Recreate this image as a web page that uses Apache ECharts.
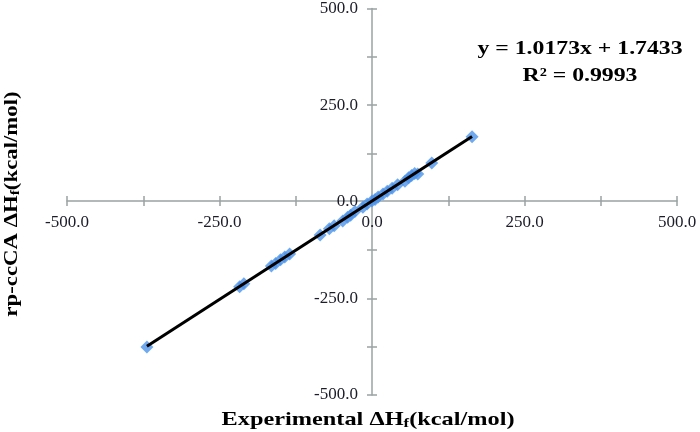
<!DOCTYPE html>
<html>
<head>
<meta charset="utf-8">
<script src="https://cdn.jsdelivr.net/npm/echarts@6/dist/echarts.min.js"></script>
<style>html,body{margin:0;padding:0;background:#fff;}#c{width:700px;height:432px;}</style>
</head>
<body>
<div id="c"></div>
<script>
const expX = [-369, -217, -210, -165, -158, -150, -143, -135, -85, -70, -62, -48, -40, -35, -28, -15, -8, 0, 5, 10, 18, 25, 33, 42, 54, 60, 65, 70, 75, 98, 164];
const calcY = [-376, -220, -212, -166, -160, -150, -143, -135, -86, -70, -62, -50, -40, -35, -25, -14, -6, 2, 6, 12, 20, 27, 35, 44, 53, 62, 68, 73, 72, 100, 168];
const slope = 1.0173;
const intercept = 1.7433;
const rSquared = 0.9993;
const axisMin = -500, axisMax = 500, tickStep = 125, labelStep = 250;

const points = expX.map((x, i) => [x, calcY[i]]);
const xs = expX.slice().sort((a, b) => a - b);
const trend = [[xs[0], slope * xs[0] + intercept], [xs[xs.length - 1], slope * xs[xs.length - 1] + intercept]];

const serif = '"Liberation Serif", "Times New Roman", serif';
const fmt = v => (Math.round(v) % labelStep === 0) ? v.toFixed(1) : '';
const axisColor = '#9aa3a3';
const W = 700, H = 432;
const G = { left: 67, right: 23, top: 7, bottom: 37 };
const halfW = (W - G.left - G.right) / 2;
const halfH = (H - G.top - G.bottom) / 2;

const labelStyle = { fontFamily: serif, fontSize: 17, color: '#1c1c2a' };

function xAx(inside, labels) {
  return {
    type: 'value', min: axisMin, max: axisMax, interval: tickStep, position: 'bottom', offset: -halfH,
    axisLine: { show: labels, onZero: false, lineStyle: { color: axisColor, width: 1.5 } },
    axisTick: { show: true, inside: inside, length: 5, lineStyle: { color: axisColor, width: 1.5 } },
    axisLabel: Object.assign({ show: labels, formatter: fmt, margin: 13, showMinLabel: true, showMaxLabel: true }, labelStyle),
    splitLine: { show: false }
  };
}
function yAx(inside, labels) {
  return {
    type: 'value', min: axisMin, max: axisMax, interval: tickStep, position: 'left', offset: -halfW,
    axisLine: { show: labels, onZero: false, lineStyle: { color: axisColor, width: 1.5 } },
    axisTick: { show: true, inside: inside, length: 5, lineStyle: { color: axisColor, width: 1.5 } },
    axisLabel: Object.assign({ show: labels, formatter: fmt, margin: 14, showMinLabel: true, showMaxLabel: true }, labelStyle),
    splitLine: { show: false }
  };
}

const chart = echarts.init(document.getElementById('c'));
chart.setOption({
  animation: false,
  grid: G,
  xAxis: [xAx(false, true), xAx(true, false)],
  yAxis: [yAx(false, true), yAx(true, false)],
  series: [
    {
      type: 'scatter', data: points, symbol: 'diamond', symbolSize: [13, 13],
      itemStyle: { color: '#4d94ea' }, z: 2
    },
    {
      type: 'line', data: trend, symbol: 'none',
      lineStyle: { color: '#000', width: 3 }, z: 3
    }
  ],
  graphic: [
    {
      type: 'text', x: 580, y: 63, scaleX: 1.25,
      style: {
        text: 'y = ' + slope.toFixed(4) + 'x + ' + intercept.toFixed(4) + '\nR² = ' + rSquared.toFixed(4),
        fill: '#000', font: 'bold 19px ' + serif, align: 'center', verticalAlign: 'middle', lineHeight: 27
      }
    },
    {
      type: 'text', x: 368, y: 420, scaleX: 1.28,
      style: {
        rich: {
          b: { font: 'bold 19px ' + serif, fill: '#000' },
          s: { font: 'bold 13px ' + serif, fill: '#000', padding: [8, 0, 0, 0] }
        },
        text: '{b|Experimental ΔH}{s|f}{b|(kcal/mol)}',
        align: 'center', verticalAlign: 'middle'
      }
    },
    {
      type: 'text', x: 12, y: 204, rotation: Math.PI / 2, scaleX: 1.2,
      style: {
        rich: {
          b: { font: 'bold 19px ' + serif, fill: '#000' },
          s: { font: 'bold 13px ' + serif, fill: '#000', padding: [8, 0, 0, 0] }
        },
        text: '{b|rp-ccCA ΔH}{s|f}{b|(kcal/mol)}',
        align: 'center', verticalAlign: 'middle'
      }
    }
  ]
});
</script>
</body>
</html>
